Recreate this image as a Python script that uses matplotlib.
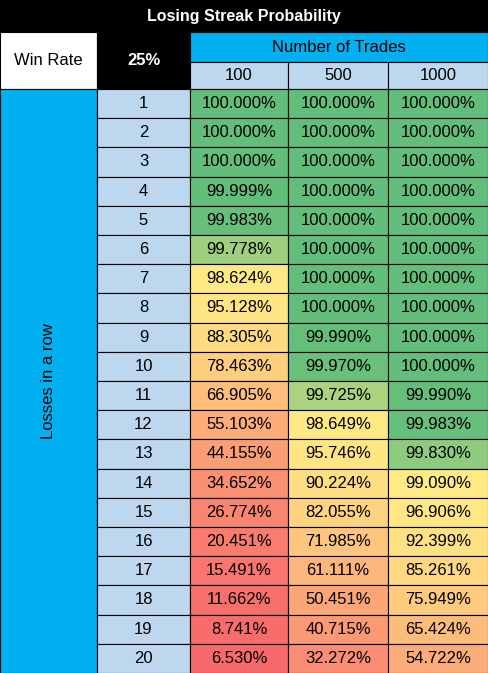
import numpy as np
import matplotlib.pyplot as plt
from matplotlib.colors import LinearSegmentedColormap, to_rgb
from matplotlib.patches import Rectangle

title = "Losing Streak Probability"
win_rate = "25%"
trades = ["100", "500", "1000"]
losses = list(range(1, 21))
p100 = [100.000, 100.000, 100.000, 99.999, 99.983, 99.778, 98.624, 95.128, 88.305, 78.463,
        66.905, 55.103, 44.155, 34.652, 26.774, 20.451, 15.491, 11.662, 8.741, 6.530]
p500 = [100.000, 100.000, 100.000, 100.000, 100.000, 100.000, 100.000, 100.000, 99.990, 99.970,
        99.725, 98.649, 95.746, 90.224, 82.055, 71.985, 61.111, 50.451, 40.715, 32.272]
p1000 = [100.000, 100.000, 100.000, 100.000, 100.000, 100.000, 100.000, 100.000, 100.000, 100.000,
         99.990, 99.983, 99.830, 99.090, 96.906, 92.399, 85.261, 75.949, 65.424, 54.722]
cols = [p100, p500, p1000]

plt.rcParams['font.family'] = ['Liberation Sans', 'DejaVu Sans']
W, H = 488, 673
fig = plt.figure(figsize=(W / 100, H / 100), dpi=100)
ax = fig.add_axes([0, 0, 1, 1])
ax.set_xlim(0, W)
ax.set_ylim(H, 0)
ax.axis('off')

blue = '#00B0F0'
light = '#BDD7EE'
xs = [0, 97, 190, 288, 388, 488]
y_title, y_h1, y_h2, y_body = 0, 32, 62, 89
rh = (H - y_body) / len(losses)

def cell(x0, y0, x1, y1, fc, text='', color='black', size=12, bold=False, lw=0.8):
    ax.add_patch(Rectangle((x0, y0), x1 - x0, y1 - y0, fc=fc, ec='black', lw=lw))
    if text:
        ax.text((x0 + x1) / 2, (y0 + y1) / 2, text, ha='center', va='center', color=color,
                fontsize=size, fontweight='bold' if bold else 'normal')

cell(0, y_title, W, y_h1, 'black', title, 'white', 11.5, True)
cell(0, y_h1, xs[1], y_body, 'white', 'Win Rate', size=12)
cell(xs[1], y_h1, xs[2], y_body, 'black', win_rate, 'white', 12, True)
cell(xs[2], y_h1, W, y_h2, blue, 'Number of Trades', size=12)
for i, t in enumerate(trades):
    cell(xs[2 + i], y_h2, xs[3 + i], y_body, light, t, size=12)
cell(0, y_body, xs[1], H, blue)
ax.text(xs[1] / 2, (y_body + H) / 2, 'Losses in a row', rotation=90, ha='center', va='center', fontsize=12)

allv = np.array(cols).ravel()
vmin, vmax, vmid = allv.min(), allv.max(), np.percentile(allv, 50)
cmap = LinearSegmentedColormap.from_list('cs', [to_rgb('#F8696B'), to_rgb('#FFEB84'), to_rgb('#63BE7B')])

def color_for(v):
    if v <= vmid:
        f = 0.5 * (v - vmin) / (vmid - vmin)
    else:
        f = 0.5 + 0.5 * (v - vmid) / (vmax - vmid)
    return cmap(f)

for r, n in enumerate(losses):
    y0 = y_body + r * rh
    cell(xs[1], y0, xs[2], y0 + rh, light, str(n), size=12)
    for c, vals in enumerate(cols):
        cell(xs[2 + c], y0, xs[3 + c], y0 + rh, color_for(vals[r]), f"{vals[r]:.3f}%", size=12)

fig.savefig('out.png', dpi=100)
